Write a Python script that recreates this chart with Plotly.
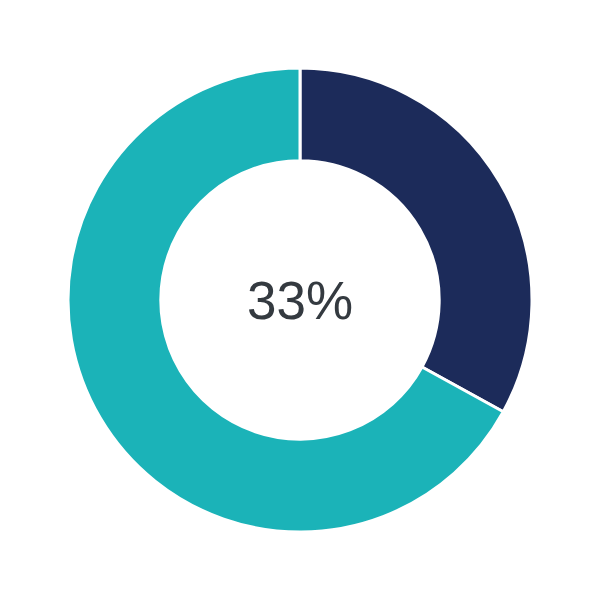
import plotly.graph_objects as go

labels = ["Achieved", "Remaining"]
values = [33, 67]
colors = ["#1C2B5A", "#1BB3B8"]
center_label = "33%"

fig = go.Figure()
fig.add_trace(go.Pie(
    labels=labels, values=values, hole=0.6,
    sort=False, direction="clockwise", rotation=0,
    marker=dict(colors=colors, line=dict(color="white", width=3)),
    textinfo="none", hoverinfo="label+percent", showlegend=False,
))

fig.add_annotation(
    x=0.5, y=0.5, xref="paper", yref="paper",
    text=center_label, showarrow=False,
    font=dict(size=53, color="#343a40", family="Liberation Sans, Arial"),
)

fig.update_layout(
    width=600, height=600,
    margin=dict(t=60, b=76, l=60, r=76),
    paper_bgcolor="white", plot_bgcolor="white",
)

fig.write_html("out.html")
